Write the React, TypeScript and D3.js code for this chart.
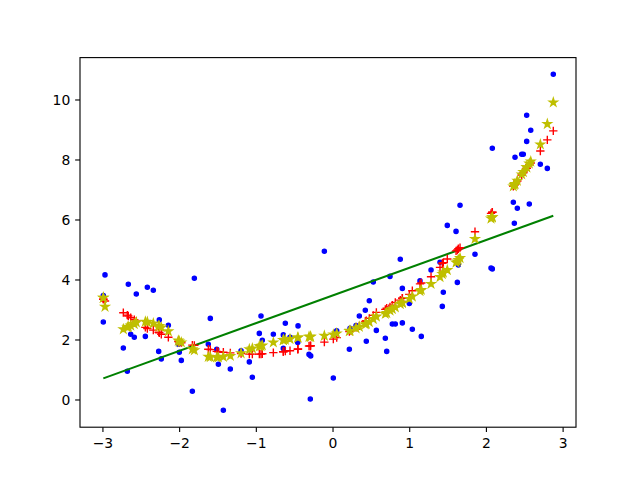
import React from "react";
import * as d3 from "d3";

// sample x positions (sorted)
const xs = [
  -2.995, -2.995, -2.973, -2.734, -2.682, -2.669, -2.638, -2.591, -2.565, -2.447,
  -2.421, -2.343, -2.273, -2.265, -2.239, -2.147, -2.017, -2.004, -1.978, -1.834,
  -1.808, -1.626, -1.6, -1.516, -1.495, -1.43, -1.339, -1.199, -1.091, -1.052,
  -0.961, -0.939, -0.922, -0.778, -0.648, -0.648, -0.622, -0.561, -0.46, -0.456,
  -0.313, -0.296, -0.291, -0.113, 0.004, 0.048, 0.213, 0.222, 0.3, 0.343,
  0.421, 0.434, 0.473, 0.525, 0.565, 0.682, 0.7, 0.743, 0.773, 0.812,
  0.877, 0.904, 0.904, 0.995, 1.034, 1.134, 1.151, 1.278, 1.395, 1.425,
  1.438, 1.49, 1.604, 1.621, 1.634, 1.656, 1.851, 2.06, 2.077, 2.077,
  2.351, 2.364, 2.373, 2.403, 2.46, 2.481, 2.525, 2.525, 2.559, 2.578,
  2.703, 2.794, 2.872,
];

// raw data (blue dots)
const dataY = [
  2.6, 3.48, 4.17, 1.73, 0.96, 3.86, 2.19, 2.09, 3.53, 2.12,
  3.76, 3.66, 1.62, 2.67, 1.37, 2.49, 1.86, 1.59, 1.32, 0.29,
  4.06, 1.86, 2.72, 1.69, 1.19, -0.34, 1.03, 1.64, 1.27, 0.76,
  2.22, 2.8, 1.99, 2.19, 2.17, 1.72, 2.56, 2.09, 1.92, 2.47,
  1.52, 0.03, 1.47, 4.96, 0.73, 2.31, 1.69, 2.39, 2.48, 2.8,
  2.99, 1.96, 3.31, 3.93, 2.32, 2.06, 1.62, 4.12, 2.53, 2.53,
  4.69, 2.57, 3.72, 3.22, 2.36, 3.97, 2.12, 4.33, 4.59, 3.12,
  3.59, 5.82, 5.62, 3.92, 4.5, 6.49, 4.86, 4.4, 4.37, 8.39,
  6.59, 5.89, 8.09, 6.39, 8.19, 8.19, 8.62, 9.49, 6.53, 8.99,
  7.86, 7.72, 10.86,
];

// red "+" predictions
const redY = [
  3.36, 3.36, 3.3, 2.91, 2.83, 2.8, 2.74, 2.68, 2.63, 2.42,
  2.38, 2.33, 2.26, 2.24, 2.19, 2.09, 1.95, 1.93, 1.91, 1.83,
  1.82, 1.69, 1.68, 1.62, 1.61, 1.59, 1.57, 1.55, 1.53, 1.53,
  1.53, 1.53, 1.54, 1.58, 1.61, 1.61, 1.63, 1.64, 1.69, 1.7,
  1.8, 1.8, 1.81, 1.93, 2.03, 2.08, 2.28, 2.31, 2.42, 2.47,
  2.62, 2.64, 2.72, 2.82, 2.92, 3.02, 3.06, 3.1, 3.16, 3.25,
  3.33, 3.39, 3.39, 3.52, 3.64, 3.87, 3.9, 4.11, 4.42, 4.56,
  4.58, 4.7, 4.97, 5.0, 5.04, 5.08, 5.61, 6.22, 6.26, 6.26,
  7.12, 7.16, 7.2, 7.3, 7.5, 7.57, 7.72, 7.72, 7.84, 7.9,
  8.3, 8.67, 8.97,
];

// yellow star predictions
const yellowY = [
  3.41, 3.41, 3.11, 2.36, 2.42, 2.44, 2.48, 2.53, 2.59, 2.61,
  2.6, 2.55, 2.47, 2.46, 2.42, 2.29, 1.98, 1.95, 1.92, 1.69,
  1.66, 1.44, 1.43, 1.42, 1.42, 1.44, 1.47, 1.56, 1.69, 1.72,
  1.79, 1.8, 1.82, 1.92, 2.0, 2.0, 2.01, 2.03, 2.08, 2.08,
  2.11, 2.11, 2.11, 2.14, 2.18, 2.22, 2.3, 2.31, 2.39, 2.44,
  2.52, 2.54, 2.6, 2.7, 2.78, 2.87, 2.9, 2.98, 3.03, 3.09,
  3.2, 3.24, 3.24, 3.37, 3.45, 3.63, 3.67, 3.87, 4.1, 4.2,
  4.25, 4.33, 4.58, 4.62, 4.67, 4.73, 5.37, 6.05, 6.09, 6.09,
  7.12, 7.17, 7.2, 7.31, 7.52, 7.6, 7.76, 7.76, 7.88, 7.95,
  8.52, 9.2, 9.92,
];

// green linear fit, endpoints
const lineX = [-2.995, 2.872];
const lineY = [0.72, 6.14];

const xTicks = [-3, -2, -1, 0, 1, 2, 3];
const yTicks = [0, 2, 4, 6, 8, 10];

const W = 640;
const H = 480;
const margin = { top: 57.6, right: 64, bottom: 52.8, left: 80 };
const FONT = "DejaVu Sans";

const fmt = (v: number) => (v < 0 ? "\u2212" + Math.abs(v) : String(v));

export default function App() {
  const x = d3.scaleLinear().domain([-3.299, 3.168]).range([margin.left, W - margin.right]);
  const y = d3.scaleLinear().domain([-0.907, 11.413]).range([H - margin.bottom, margin.top]);

  const star = d3.symbol().type(d3.symbolStar).size(19.5)() as string;
  const line = d3.line<number>().x((d) => x(lineX[d])).y((d) => y(lineY[d]));

  const bottom = H - margin.bottom;
  const tickLen = 4.86;

  return (
    <svg
      width={W}
      height={H}
      style={{ position: "absolute", left: 0, top: 0, background: "#fff" }}
      fontFamily={FONT}
    >
      <defs>
        <clipPath id="plot">
          <rect x={margin.left} y={margin.top} width={W - margin.left - margin.right} height={bottom - margin.top} />
        </clipPath>
      </defs>
      <rect width={W} height={H} fill="#fff" />

      <g clipPath="url(#plot)">
        {xs.map((d, i) => (
          <circle key={"b" + i} cx={x(d)} cy={y(dataY[i])} r={2.08} fill="#0000ff" stroke="#0000ff" strokeWidth={1.39} />
        ))}
        <path d={line([0, 1]) as string} fill="none" stroke="#008000" strokeWidth={2.08} />
        {xs.map((d, i) => (
          <g key={"r" + i} transform={`translate(${x(d)},${y(redY[i])})`} stroke="#ff0000" strokeWidth={1.39}>
            <line x1={-4.17} x2={4.17} y1={0} y2={0} />
            <line x1={0} x2={0} y1={-4.17} y2={4.17} />
          </g>
        ))}
        {xs.map((d, i) => (
          <path
            key={"y" + i}
            d={star}
            transform={`translate(${x(d)},${y(yellowY[i])})`}
            fill="#bfbf00"
            stroke="#bfbf00"
            strokeWidth={1.39}
            strokeLinejoin="miter"
          />
        ))}
      </g>

      {/* spines */}
      <rect
        x={margin.left}
        y={margin.top}
        width={W - margin.left - margin.right}
        height={bottom - margin.top}
        fill="none"
        stroke="#000"
        strokeWidth={1.11}
      />

      {xTicks.map((t) => (
        <g key={"xt" + t} transform={`translate(${x(t)},${bottom})`}>
          <line y1={0} y2={tickLen} stroke="#000" strokeWidth={1.11} />
          <text y={tickLen + 4.86 + 11} textAnchor="middle" fontSize={13.9} fill="#000">
            {fmt(t)}
          </text>
        </g>
      ))}
      {yTicks.map((t) => (
        <g key={"yt" + t} transform={`translate(${margin.left},${y(t)})`}>
          <line x1={0} x2={-tickLen} stroke="#000" strokeWidth={1.11} />
          <text x={-tickLen - 4.86} dy="0.36em" textAnchor="end" fontSize={13.9} fill="#000">
            {fmt(t)}
          </text>
        </g>
      ))}
    </svg>
  );
}
